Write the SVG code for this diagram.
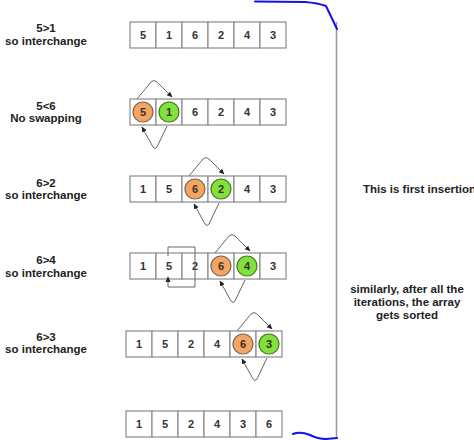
<svg xmlns="http://www.w3.org/2000/svg" width="474" height="440" viewBox="0 0 474 440">
<defs>
<marker id="ah" markerWidth="6" markerHeight="6" refX="5" refY="3" orient="auto" markerUnits="userSpaceOnUse"><path d="M0,0.5 L5.5,3 L0,5.5 Z" fill="#222"/></marker>
<style>
.cell{fill:#fff;stroke:#8a8a8a;stroke-width:1.2}
.v{font-family:"Liberation Sans",Arial,sans-serif;font-weight:bold;font-size:11px;fill:#333;text-anchor:middle}
.lbl{font-family:"Liberation Sans",Arial,sans-serif;font-weight:bold;font-size:11.5px;fill:#222;text-anchor:middle}
.note{font-family:"Liberation Sans",Arial,sans-serif;font-weight:bold;font-size:11.5px;fill:#222}
.or{fill:#f5a462;stroke:#7a6656;stroke-width:1.2}
.gr{fill:#84e03a;stroke:#3f7a22;stroke-width:1.2}
.arr{fill:none;stroke:#666;stroke-width:1;marker-end:url(#ah)}
.blue{fill:none;stroke:#1414e6;stroke-width:2;stroke-linecap:round;stroke-linejoin:round}
</style>
</defs>
<rect width="474" height="440" fill="#fff"/>

<g id="labels">
<text class="lbl" x="46" y="32">5&gt;1</text><text class="lbl" x="46" y="45">so interchange</text>
<text class="lbl" x="46" y="110">5&lt;6</text><text class="lbl" x="46" y="122">No swapping</text>
<text class="lbl" x="46" y="187">6&gt;2</text><text class="lbl" x="46" y="199">so interchange</text>
<text class="lbl" x="46" y="264">6&gt;4</text><text class="lbl" x="46" y="277">so interchange</text>
<text class="lbl" x="46" y="341">6&gt;3</text><text class="lbl" x="46" y="353">so interchange</text>
</g>

<g id="row1">
<rect class="cell" x="130" y="22" width="26" height="26"/><rect class="cell" x="156" y="22" width="26" height="26"/><rect class="cell" x="182" y="22" width="26" height="26"/><rect class="cell" x="208" y="22" width="26" height="26"/><rect class="cell" x="234" y="22" width="26" height="26"/><rect class="cell" x="260" y="22" width="26" height="26"/>
<text class="v" x="143" y="39">5</text><text class="v" x="169" y="39">1</text><text class="v" x="195" y="39">6</text><text class="v" x="221" y="39">2</text><text class="v" x="247" y="39">4</text><text class="v" x="273" y="39">3</text>
</g>

<g id="row2">
<rect class="cell" x="130" y="99" width="26" height="26"/><rect class="cell" x="156" y="99" width="26" height="26"/><rect class="cell" x="182" y="99" width="26" height="26"/><rect class="cell" x="208" y="99" width="26" height="26"/><rect class="cell" x="234" y="99" width="26" height="26"/><rect class="cell" x="260" y="99" width="26" height="26"/>
<circle class="or" cx="143" cy="112" r="10"/><circle class="gr" cx="169" cy="112" r="10"/>
<text class="v" x="143" y="116">5</text><text class="v" x="169" y="116">1</text><text class="v" x="195" y="116">6</text><text class="v" x="221" y="116">2</text><text class="v" x="247" y="116">4</text><text class="v" x="273" y="116">3</text>
</g>

<g id="row3">
<rect class="cell" x="130" y="176" width="26" height="26"/><rect class="cell" x="156" y="176" width="26" height="26"/><rect class="cell" x="182" y="176" width="26" height="26"/><rect class="cell" x="208" y="176" width="26" height="26"/><rect class="cell" x="234" y="176" width="26" height="26"/><rect class="cell" x="260" y="176" width="26" height="26"/>
<circle class="or" cx="195" cy="189" r="10"/><circle class="gr" cx="221" cy="189" r="10"/>
<text class="v" x="143" y="193">1</text><text class="v" x="169" y="193">5</text><text class="v" x="195" y="193">6</text><text class="v" x="221" y="193">2</text><text class="v" x="247" y="193">4</text><text class="v" x="273" y="193">3</text>
</g>

<g id="row4">
<rect class="cell" x="130" y="253" width="26" height="26"/><rect class="cell" x="156" y="253" width="26" height="26"/><rect class="cell" x="182" y="253" width="26" height="26"/><rect class="cell" x="208" y="253" width="26" height="26"/><rect class="cell" x="234" y="253" width="26" height="26"/><rect class="cell" x="260" y="253" width="26" height="26"/>
<circle class="or" cx="221" cy="266" r="10"/><circle class="gr" cx="247" cy="266" r="10"/>
<text class="v" x="143" y="270">1</text><text class="v" x="169" y="270">5</text><text class="v" x="195" y="270">2</text><text class="v" x="221" y="270">6</text><text class="v" x="247" y="270">4</text><text class="v" x="273" y="270">3</text>
</g>

<g id="row5">
<rect class="cell" x="126" y="331" width="26" height="26"/><rect class="cell" x="152" y="331" width="26" height="26"/><rect class="cell" x="178" y="331" width="26" height="26"/><rect class="cell" x="204" y="331" width="26" height="26"/><rect class="cell" x="230" y="331" width="26" height="26"/><rect class="cell" x="256" y="331" width="26" height="26"/>
<circle class="or" cx="243" cy="344" r="10"/><circle class="gr" cx="269" cy="344" r="10"/>
<text class="v" x="139" y="348">1</text><text class="v" x="165" y="348">5</text><text class="v" x="191" y="348">2</text><text class="v" x="217" y="348">4</text><text class="v" x="243" y="348">6</text><text class="v" x="269" y="348">3</text>
</g>

<g id="row6">
<rect class="cell" x="126" y="411" width="26" height="26"/><rect class="cell" x="152" y="411" width="26" height="26"/><rect class="cell" x="178" y="411" width="26" height="26"/><rect class="cell" x="204" y="411" width="26" height="26"/><rect class="cell" x="230" y="411" width="26" height="26"/><rect class="cell" x="256" y="411" width="26" height="26"/>
<text class="v" x="139" y="428">1</text><text class="v" x="165" y="428">5</text><text class="v" x="191" y="428">2</text><text class="v" x="217" y="428">4</text><text class="v" x="243" y="428">3</text><text class="v" x="269" y="428">6</text>
</g>

<g id="connectors">
<path class="arr" d="M137,99 L151,82 Q154,79 157,82 L172,97"/>
<path class="arr" d="M167,126 L157,147 Q155,150 153,147 L142,127"/>
<path class="arr" d="M189,176 L203,159 Q206,156 209,159 L224,174"/>
<path class="arr" d="M219,203 L209,224 Q207,227 205,224 L194,204"/>
<path class="arr" d="M215,253 L229,236 Q232,233 235,236 L250,251"/>
<path class="arr" d="M245,280 L235,301 Q233,304 231,301 L220,281"/>
<path class="arr" d="M237,331 L251,314 Q254,311 257,314 L272,329"/>
<path class="arr" d="M267,358 L257,379 Q255,382 253,379 L242,359"/>
<path class="arr" d="M168,256 V247 H195 V287 H168 V277"/>
</g>

<g id="bracket">
<line x1="336.5" y1="22" x2="336.5" y2="438" stroke="#999" stroke-width="1.5"/>
</g>

<g id="notes">
<text class="note" x="363" y="193">This is first insertion</text>
<text class="lbl" x="407" y="293">similarly, after all the</text>
<text class="lbl" x="407" y="306">iterations, the array</text>
<text class="lbl" x="407" y="319">gets sorted</text>
</g>

<g id="scribbles">
<path class="blue" d="M255,1.5 L305,2 Q318,3 326,6 L337,29"/>
<path class="blue" d="M293,434 Q300,431 310,435 Q318,439 326,439 L337,438"/>
</g>
</svg>
